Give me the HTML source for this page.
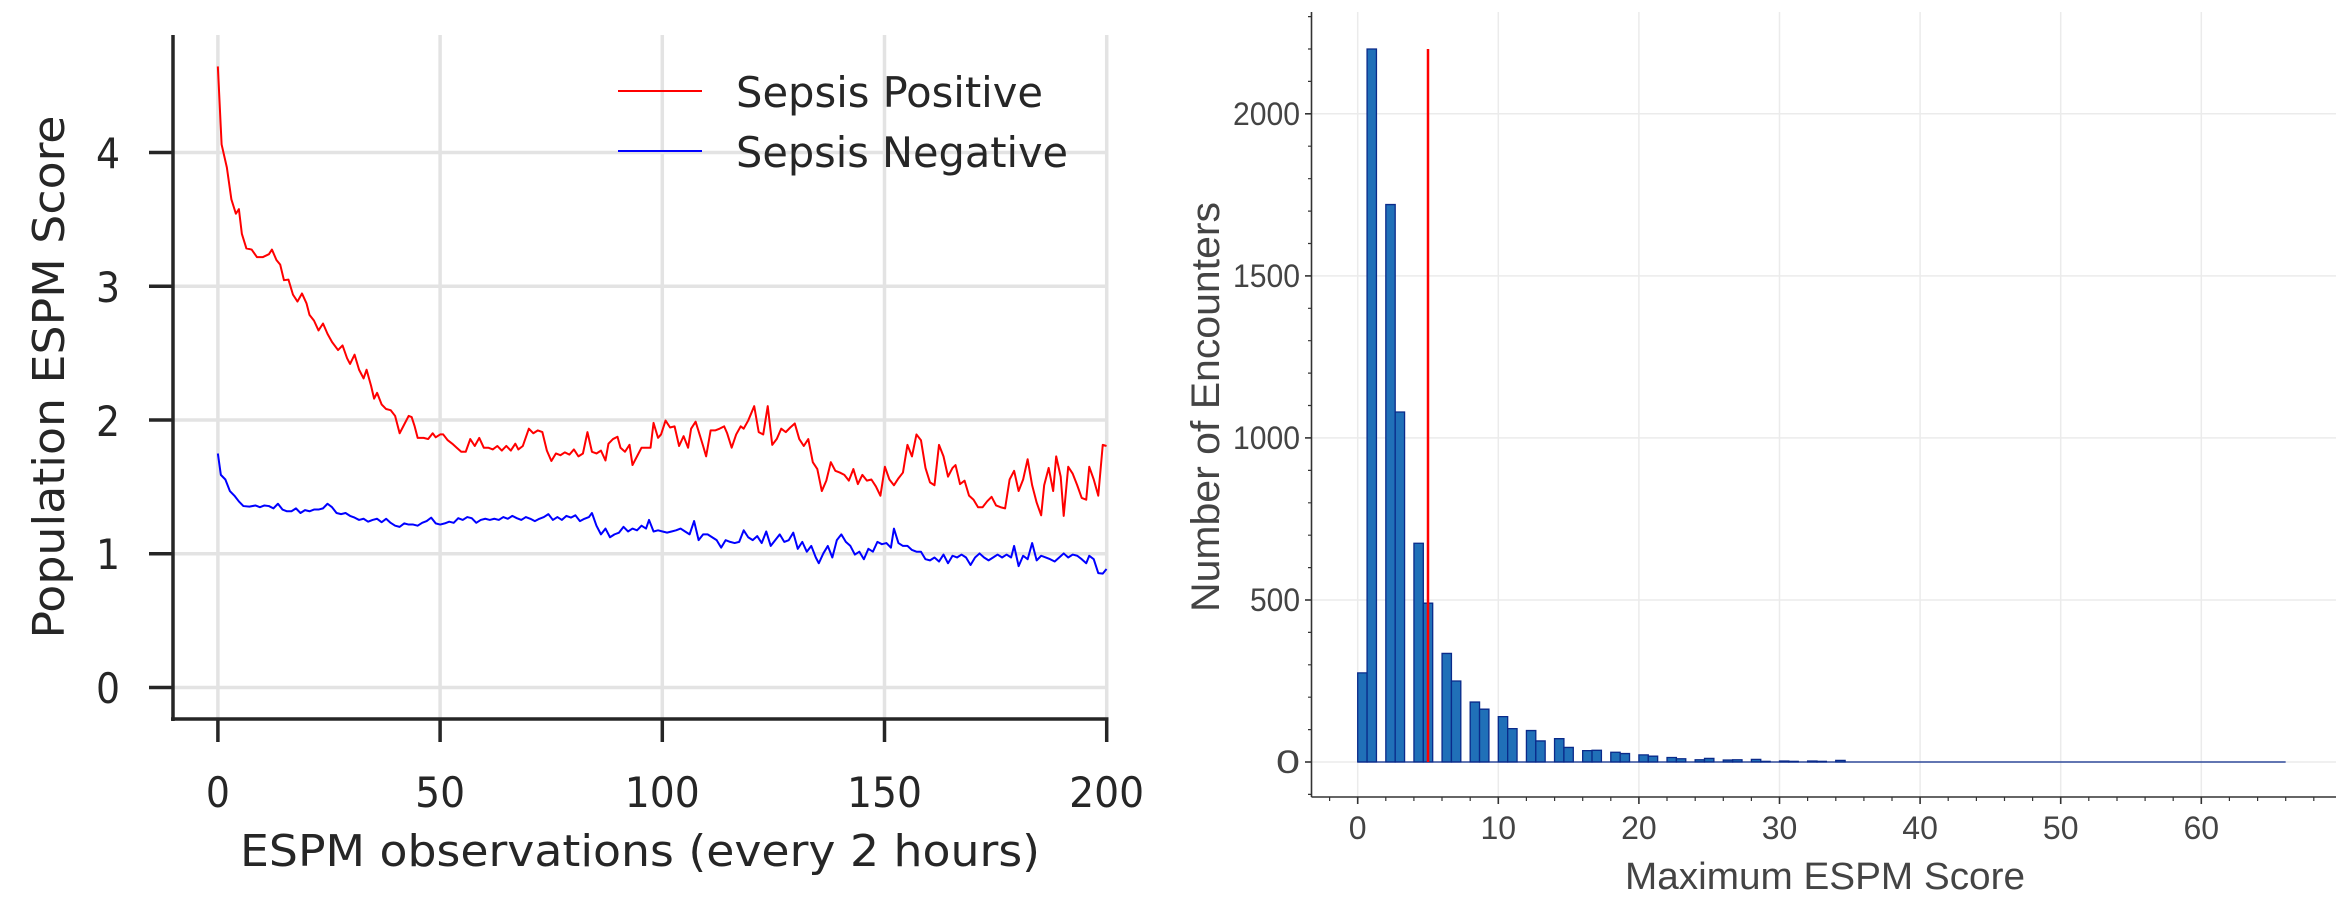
<!DOCTYPE html>
<html><head><meta charset="utf-8"><style>
html,body{margin:0;padding:0;background:#fff}
svg{display:block}
</style></head><body>
<svg width="2344" height="901" viewBox="0 0 2344 901" xmlns="http://www.w3.org/2000/svg">
<rect width="2344" height="901" fill="#fff"/>
<!-- LEFT CHART -->
<g stroke="#e3e3e3" stroke-width="3.5">
<line x1="217.9" y1="35" x2="217.9" y2="719"/>
<line x1="440.1" y1="35" x2="440.1" y2="719"/>
<line x1="662.3" y1="35" x2="662.3" y2="719"/>
<line x1="884.5" y1="35" x2="884.5" y2="719"/>
<line x1="1106.7" y1="35" x2="1106.7" y2="719"/>
<line x1="173" y1="687.5" x2="1106.7" y2="687.5"/>
<line x1="173" y1="553.75" x2="1106.7" y2="553.75"/>
<line x1="173" y1="420" x2="1106.7" y2="420"/>
<line x1="173" y1="286.25" x2="1106.7" y2="286.25"/>
<line x1="173" y1="152.5" x2="1106.7" y2="152.5"/>
</g>
<g transform="scale(0.75120,0.57770)" fill="none" stroke-width="2" stroke-linejoin="round">
<polyline vector-effect="non-scaling-stroke" stroke="#ff0000" points="290,115 295,250 302,290 308,345 314,370 318,362 322,405 328,430 335,432 342,445 350,445 358,440 362,432 368,450 373,458 378,485 384,484 390,510 396,522 402,508 408,525 412,545 418,555 424,572 430,560 436,578 442,592 450,606 456,598 462,620 466,630 472,614 478,640 484,655 488,640 494,668 498,690 502,680 508,700 514,708 520,710 526,720 532,750 538,735 544,720 548,722 552,738 556,758 564,758 570,760 576,750 580,757 586,752 590,752 596,762 602,768 608,775 614,782 620,782 626,760 632,772 638,758 644,775 650,775 656,778 662,772 668,780 674,772 680,780 686,768 690,778 696,772 704,742 710,750 716,745 722,748 728,780 734,798 740,785 746,788 752,783 758,787 764,778 770,790 776,785 782,748 788,782 794,785 800,780 806,797 810,768 816,760 822,756 826,775 832,782 838,770 842,805 848,790 854,775 860,775 866,775 870,732 876,758 880,752 886,728 892,740 898,738 904,772 910,755 916,775 920,742 926,730 932,755 936,772 940,790 946,745 952,745 958,742 964,738 968,750 974,775 980,752 986,738 990,742 996,728 1004,703 1010,748 1016,752 1022,703 1028,770 1034,760 1040,742 1046,748 1052,740 1058,733 1064,760 1070,772 1076,760 1082,800 1088,812 1094,850 1100,832 1106,800 1112,815 1118,818 1124,822 1130,832 1136,812 1142,838 1148,822 1154,832 1160,830 1166,842 1172,858 1178,808 1184,830 1190,840 1196,828 1202,818 1208,770 1214,790 1220,752 1226,762 1232,810 1238,835 1244,840 1250,770 1256,790 1262,825 1268,810 1272,805 1278,838 1284,832 1290,858 1296,865 1302,878 1308,878 1314,868 1320,860 1326,875 1332,878 1338,880 1344,830 1350,815 1356,850 1362,830 1368,795 1374,840 1380,870 1386,892 1390,840 1396,810 1402,850 1406,790 1412,825 1416,893 1422,808 1428,820 1434,840 1440,862 1446,865 1450,808 1456,830 1462,858 1468,770 1473,772"/>
<polyline vector-effect="non-scaling-stroke" stroke="#0000ff" points="290,785 294,822 300,830 306,850 312,858 318,868 324,876 332,877 340,875 346,878 352,875 358,876 364,880 370,872 376,882 382,885 388,885 394,880 400,888 406,883 412,885 418,882 424,882 430,880 436,872 442,878 448,888 454,890 460,888 466,893 472,896 478,900 484,898 490,903 496,900 502,898 508,904 514,898 520,905 526,910 532,912 538,906 544,908 550,908 556,910 562,905 568,902 574,896 580,906 586,908 592,906 598,903 604,905 610,897 616,900 622,895 628,897 634,905 640,900 646,898 652,900 658,898 664,900 670,895 676,898 682,893 688,897 694,900 700,895 706,898 712,902 718,898 724,895 730,890 736,900 742,895 748,900 754,893 760,896 766,892 772,902 778,898 784,895 788,888 794,910 800,925 806,915 812,930 818,925 824,922 830,912 836,920 842,915 848,918 854,910 860,915 864,900 870,920 876,918 882,920 888,922 894,920 900,918 906,915 912,920 918,925 924,902 930,935 936,925 942,925 948,930 954,935 960,948 966,935 972,938 978,940 984,938 990,918 996,930 1002,935 1008,928 1014,940 1020,920 1026,945 1032,935 1038,925 1044,938 1050,935 1056,922 1062,950 1068,938 1074,955 1080,945 1086,965 1090,975 1096,958 1102,945 1108,965 1114,935 1120,925 1126,938 1132,945 1138,960 1144,955 1150,968 1156,950 1162,955 1168,938 1174,942 1180,940 1186,948 1190,915 1196,940 1202,945 1208,945 1214,952 1220,955 1226,955 1232,968 1238,970 1244,965 1250,972 1256,960 1262,975 1268,962 1274,965 1280,960 1286,965 1292,978 1298,965 1304,958 1310,965 1316,970 1322,965 1328,960 1334,965 1340,960 1346,965 1350,945 1356,980 1362,962 1368,968 1374,940 1380,970 1386,962 1392,965 1398,968 1404,972 1410,965 1416,958 1422,965 1428,960 1434,962 1440,968 1446,975 1450,962 1456,968 1462,992 1468,993 1473,985"/>
</g>
<g stroke="#262626" stroke-width="3.5" fill="none">
<line x1="173" y1="35" x2="173" y2="721"/>
<line x1="171" y1="719" x2="1108.5" y2="719"/>
<line x1="149" y1="687.5" x2="173" y2="687.5"/>
<line x1="149" y1="553.75" x2="173" y2="553.75"/>
<line x1="149" y1="420" x2="173" y2="420"/>
<line x1="149" y1="286.25" x2="173" y2="286.25"/>
<line x1="149" y1="152.5" x2="173" y2="152.5"/>
<line x1="217.9" y1="719" x2="217.9" y2="742"/>
<line x1="440.1" y1="719" x2="440.1" y2="742"/>
<line x1="662.3" y1="719" x2="662.3" y2="742"/>
<line x1="884.5" y1="719" x2="884.5" y2="742"/>
<line x1="1106.7" y1="719" x2="1106.7" y2="742"/>
</g>
<g font-family="DejaVu Sans, Liberation Sans, sans-serif" font-size="42" fill="#262626" style="font-stretch:condensed">
<text x="120" y="703" text-anchor="end">0</text>
<text x="120" y="569" text-anchor="end">1</text>
<text x="120" y="436" text-anchor="end">2</text>
<text x="120" y="302" text-anchor="end">3</text>
<text x="120" y="168" text-anchor="end">4</text>
<text x="217.9" y="807" text-anchor="middle">0</text>
<text x="440.1" y="807" text-anchor="middle" textLength="50" lengthAdjust="spacingAndGlyphs">50</text>
<text x="662.3" y="807" text-anchor="middle" textLength="75" lengthAdjust="spacingAndGlyphs">100</text>
<text x="884.5" y="807" text-anchor="middle" textLength="75" lengthAdjust="spacingAndGlyphs">150</text>
<text x="1106.7" y="807" text-anchor="middle" textLength="75" lengthAdjust="spacingAndGlyphs">200</text>
<text x="240" y="866" font-size="44" textLength="800" lengthAdjust="spacingAndGlyphs">ESPM observations (every 2 hours)</text>
<text transform="translate(64,377) rotate(-90)" text-anchor="middle" font-size="44" textLength="523" lengthAdjust="spacingAndGlyphs">Population ESPM Score</text>
<text x="736" y="107" font-size="42" textLength="307" lengthAdjust="spacingAndGlyphs">Sepsis Positive</text>
<text x="736" y="167" font-size="42" textLength="332" lengthAdjust="spacingAndGlyphs">Sepsis Negative</text>
</g>
<line x1="618" y1="91" x2="702" y2="91" stroke="#ff0000" stroke-width="2"/>
<line x1="618" y1="151" x2="702" y2="151" stroke="#0000ff" stroke-width="2"/>

<!-- RIGHT CHART -->
<g stroke="#ebebeb" stroke-width="1.5">
<line x1="1357.7" y1="12" x2="1357.7" y2="797"/>
<line x1="1498.3" y1="12" x2="1498.3" y2="797"/>
<line x1="1638.9" y1="12" x2="1638.9" y2="797"/>
<line x1="1779.5" y1="12" x2="1779.5" y2="797"/>
<line x1="1920.1" y1="12" x2="1920.1" y2="797"/>
<line x1="2060.7" y1="12" x2="2060.7" y2="797"/>
<line x1="2201.3" y1="12" x2="2201.3" y2="797"/>
<line x1="1312" y1="762" x2="2336" y2="762"/>
<line x1="1312" y1="600" x2="2336" y2="600"/>
<line x1="1312" y1="437.9" x2="2336" y2="437.9"/>
<line x1="1312" y1="275.9" x2="2336" y2="275.9"/>
<line x1="1312" y1="113.8" x2="2336" y2="113.8"/>
</g>
<g transform="translate(1357.7,762) scale(14.06,-0.3241)" fill="#2070b8" stroke="#0a2a8a" stroke-width="1.3">
<rect vector-effect="non-scaling-stroke" x="0" y="0" width="0.6667" height="275"/>
<rect vector-effect="non-scaling-stroke" x="0.6667" y="0" width="0.6667" height="2200"/>
<rect vector-effect="non-scaling-stroke" x="2" y="0" width="0.6667" height="1720"/>
<rect vector-effect="non-scaling-stroke" x="2.6667" y="0" width="0.6667" height="1080"/>
<rect vector-effect="non-scaling-stroke" x="4" y="0" width="0.6667" height="675"/>
<rect vector-effect="non-scaling-stroke" x="4.6667" y="0" width="0.6667" height="490"/>
<rect vector-effect="non-scaling-stroke" x="6" y="0" width="0.6667" height="335"/>
<rect vector-effect="non-scaling-stroke" x="6.6667" y="0" width="0.6667" height="250"/>
<rect vector-effect="non-scaling-stroke" x="8" y="0" width="0.6667" height="185"/>
<rect vector-effect="non-scaling-stroke" x="8.6667" y="0" width="0.6667" height="163"/>
<rect vector-effect="non-scaling-stroke" x="10" y="0" width="0.6667" height="140"/>
<rect vector-effect="non-scaling-stroke" x="10.6667" y="0" width="0.6667" height="103"/>
<rect vector-effect="non-scaling-stroke" x="12" y="0" width="0.6667" height="97"/>
<rect vector-effect="non-scaling-stroke" x="12.6667" y="0" width="0.6667" height="65"/>
<rect vector-effect="non-scaling-stroke" x="14" y="0" width="0.6667" height="72"/>
<rect vector-effect="non-scaling-stroke" x="14.6667" y="0" width="0.6667" height="45"/>
<rect vector-effect="non-scaling-stroke" x="16" y="0" width="0.6667" height="35"/>
<rect vector-effect="non-scaling-stroke" x="16.6667" y="0" width="0.6667" height="36"/>
<rect vector-effect="non-scaling-stroke" x="18" y="0" width="0.6667" height="30"/>
<rect vector-effect="non-scaling-stroke" x="18.6667" y="0" width="0.6667" height="26"/>
<rect vector-effect="non-scaling-stroke" x="20" y="0" width="0.6667" height="22"/>
<rect vector-effect="non-scaling-stroke" x="20.6667" y="0" width="0.6667" height="18"/>
<rect vector-effect="non-scaling-stroke" x="22" y="0" width="0.6667" height="14"/>
<rect vector-effect="non-scaling-stroke" x="22.6667" y="0" width="0.6667" height="10"/>
<rect vector-effect="non-scaling-stroke" x="24" y="0" width="0.6667" height="7"/>
<rect vector-effect="non-scaling-stroke" x="24.6667" y="0" width="0.6667" height="11"/>
<rect vector-effect="non-scaling-stroke" x="26" y="0" width="0.6667" height="6"/>
<rect vector-effect="non-scaling-stroke" x="26.6667" y="0" width="0.6667" height="7"/>
<rect vector-effect="non-scaling-stroke" x="28" y="0" width="0.6667" height="8"/>
<rect vector-effect="non-scaling-stroke" x="28.6667" y="0" width="0.6667" height="2"/>
<rect vector-effect="non-scaling-stroke" x="30" y="0" width="0.6667" height="3"/>
<rect vector-effect="non-scaling-stroke" x="30.6667" y="0" width="0.6667" height="2"/>
<rect vector-effect="non-scaling-stroke" x="32" y="0" width="0.6667" height="3"/>
<rect vector-effect="non-scaling-stroke" x="32.6667" y="0" width="0.6667" height="2"/>
<rect vector-effect="non-scaling-stroke" x="34" y="0" width="0.6667" height="5"/>
<line vector-effect="non-scaling-stroke" x1="0" y1="0" x2="66" y2="0"/>
</g>
<line x1="1428" y1="49" x2="1428" y2="762" stroke="#ff0000" stroke-width="2.5"/>
<g stroke="#333" stroke-width="1.6">
<line x1="1311.5" y1="12" x2="1311.5" y2="797"/>
<line x1="1311.5" y1="797" x2="2336" y2="797"/>
<line x1="1305" y1="762" x2="1311.5" y2="762"/>
<line x1="1305" y1="600" x2="1311.5" y2="600"/>
<line x1="1305" y1="437.9" x2="1311.5" y2="437.9"/>
<line x1="1305" y1="275.9" x2="1311.5" y2="275.9"/>
<line x1="1305" y1="113.8" x2="1311.5" y2="113.8"/>
<line x1="1357.7" y1="797" x2="1357.7" y2="804"/>
<line x1="1498.3" y1="797" x2="1498.3" y2="804"/>
<line x1="1638.9" y1="797" x2="1638.9" y2="804"/>
<line x1="1779.5" y1="797" x2="1779.5" y2="804"/>
<line x1="1920.1" y1="797" x2="1920.1" y2="804"/>
<line x1="2060.7" y1="797" x2="2060.7" y2="804"/>
<line x1="2201.3" y1="797" x2="2201.3" y2="804"/>
</g>
<g stroke="#333" stroke-width="1.2">
<path d="M1329.6 797v4M1385.8 797v4M1413.9 797v4M1442 797v4M1470.2 797v4M1526.4 797v4M1554.6 797v4M1582.7 797v4M1610.8 797v4M1667 797v4M1695.2 797v4M1723.3 797v4M1751.4 797v4M1807.6 797v4M1835.8 797v4M1863.9 797v4M1892 797v4M1948.2 797v4M1976.4 797v4M2004.5 797v4M2032.6 797v4M2088.8 797v4M2117 797v4M2145.1 797v4M2173.2 797v4M2229.4 797v4M2257.6 797v4M2285.7 797v4M2313.8 797v4"/>
<path d="M1308 794.4h3.5M1308 729.6h3.5M1308 697.2h3.5M1308 664.8h3.5M1308 632.4h3.5M1308 567.6h3.5M1308 535.2h3.5M1308 502.8h3.5M1308 470.4h3.5M1308 405.5h3.5M1308 373.1h3.5M1308 340.7h3.5M1308 308.3h3.5M1308 243.5h3.5M1308 211.1h3.5M1308 178.7h3.5M1308 146.2h3.5M1308 81.4h3.5M1308 49h3.5M1308 16.6h3.5"/>
</g>
<g font-family="Liberation Sans, Arial, sans-serif" fill="#444" font-size="32">
<text x="1300" y="773" text-anchor="end" textLength="24" lengthAdjust="spacingAndGlyphs">0</text>
<text x="1300" y="611" text-anchor="end" textLength="50" lengthAdjust="spacingAndGlyphs">500</text>
<text x="1300" y="449" text-anchor="end" textLength="67" lengthAdjust="spacingAndGlyphs">1000</text>
<text x="1300" y="287" text-anchor="end" textLength="67" lengthAdjust="spacingAndGlyphs">1500</text>
<text x="1300" y="125" text-anchor="end" textLength="67" lengthAdjust="spacingAndGlyphs">2000</text>
<text x="1357.7" y="839" text-anchor="middle">0</text>
<text x="1498.3" y="839" text-anchor="middle">10</text>
<text x="1638.9" y="839" text-anchor="middle">20</text>
<text x="1779.5" y="839" text-anchor="middle">30</text>
<text x="1920.1" y="839" text-anchor="middle">40</text>
<text x="2060.7" y="839" text-anchor="middle">50</text>
<text x="2201.3" y="839" text-anchor="middle">60</text>
<text x="1625" y="889" font-size="38" textLength="400" lengthAdjust="spacingAndGlyphs">Maximum ESPM Score</text>
<text transform="translate(1219,407) rotate(-90)" text-anchor="middle" font-size="40" textLength="410" lengthAdjust="spacingAndGlyphs">Number of Encounters</text>
</g>
</svg>
</body></html>
